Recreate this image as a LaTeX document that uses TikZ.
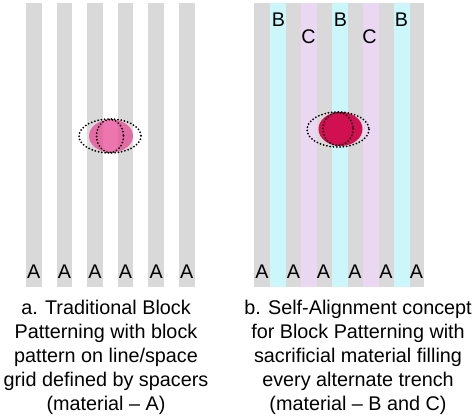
\documentclass[tikz,border=0pt]{standalone}
\usepackage{fontspec}
\setmainfont{Liberation Sans}
\definecolor{spacergray}{RGB}{217,217,217}
\definecolor{trenchcyan}{RGB}{204,247,250}
\definecolor{trenchlilac}{RGB}{234,215,242}
\definecolor{blockpink}{RGB}{232,72,148}
\definecolor{blockred}{RGB}{208,16,80}
\begin{document}
\begin{tikzpicture}[x=0.75pt,y=0.75pt,yscale=-1,xscale=1,
    lbl/.style={font=\fontsize{14.8}{17}\selectfont, inner sep=0pt},
    captext/.style={align=center, font=\fontsize{14.85}{18}\selectfont, inner sep=0pt},
    outline/.style={black, line width=1.5pt, line cap=round, dash pattern=on 0pt off 2.5pt}]
    \useasboundingbox (0,0) rectangle (474,416);
    %spacers (a)
    \foreach \i in {0, ..., 5} {
        \fill [spacergray] (26 + \i * 30.6, 3) rectangle (41.5 + \i * 30.6, 287);
        \node [lbl] (la\i) at (33.75 + \i * 30.6, 272) {A};
    }
    %block (a)
    \fill [blockpink, opacity=0.75] (111, 136) ellipse (22 and 16.5);
    \draw [outline] (110, 136) ellipse (31 and 17);
    \draw [outline] (110, 136) ellipse (13.5 and 16.5);
    %
    %spacers (b)
    \fill [spacergray] (254, 3) rectangle (424, 287);
    \foreach \i/\c in {0/trenchcyan, 1/trenchlilac, 2/trenchcyan, 3/trenchlilac, 4/trenchcyan} {
        \fill [\c] (270 + \i * 31, 3) rectangle (285.5 + \i * 31, 287);
    }
    \foreach \x [count=\i] in {262, 293.5, 323.5, 355, 386, 416.5} {
        \node [lbl] (ra\i) at (\x, 272) {A};
    }
    \foreach \x [count=\i] in {278.5, 340.5, 401.5} {
        \node [lbl] (rb\i) at (\x, 20) {B};
    }
    \foreach \x [count=\i] in {308.5, 369.5} {
        \node [lbl] (rc\i) at (\x, 37) {C};
    }
    %block (b)
    \fill [blockred] (340.5, 129) ellipse (22 and 17);
    \draw [outline] (338, 129.5) ellipse (31 and 17.5);
    \draw [outline] (338, 129) ellipse (15 and 16.5);
    %
    %captions
    \node [captext] (capa) at (106, 357) {a. Traditional Block\\Patterning with block\\pattern on line/space\\grid defined by spacers\\(material -- A)};
    \node [captext] (capb) at (358, 357) {b. Self-Alignment concept\\for Block Patterning with\\sacrificial material filling\\every alternate trench\\(material -- B and C)};
\end{tikzpicture}
\end{document}
